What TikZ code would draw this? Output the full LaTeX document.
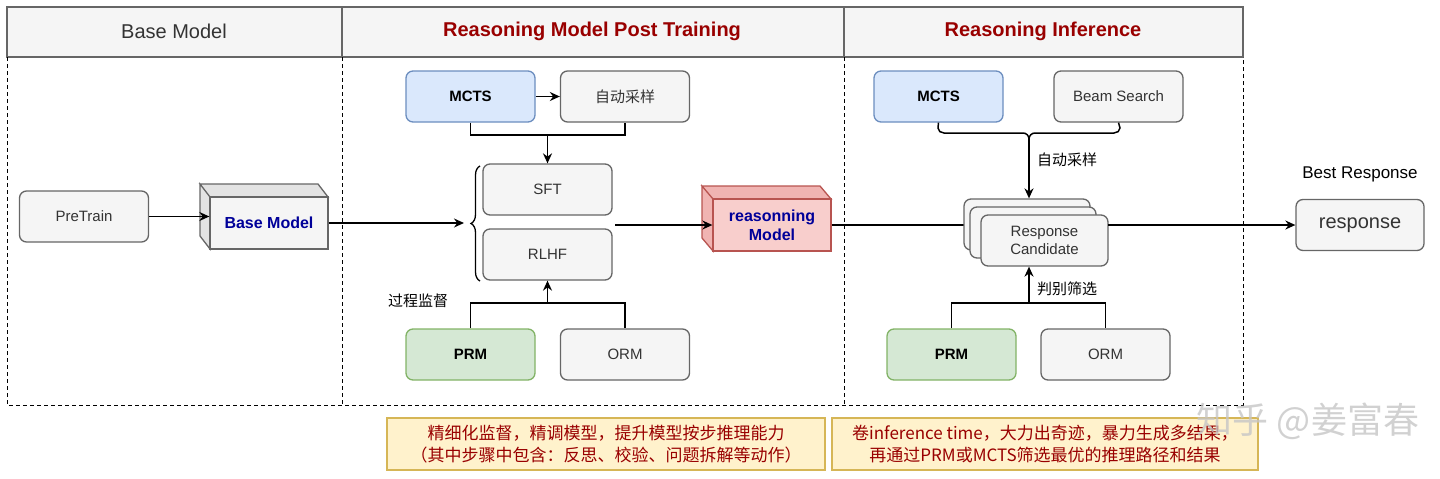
\documentclass[tikz,border=0pt]{standalone}
\usepackage{fontspec}
\setmainfont{Liberation Sans}
\newfontfamily\cjk{Noto Sans CJK SC}
\usetikzlibrary{arrows.meta,decorations.pathreplacing}
\definecolor{lgray}{HTML}{F5F5F5}
\definecolor{sgray}{HTML}{666666}
\definecolor{dred}{HTML}{990000}
\definecolor{dblue}{HTML}{000099}
\begin{document}
\begin{tikzpicture}[x=1pt,y=-1pt,
  box/.style={draw=sgray,fill=lgray,rounded corners=7pt,line width=1.3pt,minimum width=129pt,minimum height=51pt,font=\fontsize{15}{18}\selectfont,text=black!80,inner sep=0pt},
  blue/.style={box,fill={rgb,255:red,218;green,232;blue,252},draw={rgb,255:red,108;green,142;blue,191},font=\fontsize{15}{18}\selectfont\bfseries,text=black},
  green/.style={box,fill={rgb,255:red,213;green,232;blue,212},draw={rgb,255:red,130;green,179;blue,102},font=\fontsize{15}{18}\selectfont\bfseries,text=black},
  note/.style={draw={rgb,255:red,214;green,182;blue,86},fill={rgb,255:red,255;green,242;blue,204},line width=1.3pt,text=dred,align=center,font=\cjk\fontsize{17}{22}\selectfont,inner sep=0pt},
  line/.style={line width=1.5pt,black},
  arr/.style={line,-{Stealth[length=10pt,width=9pt]}},
  hdr/.style={font=\fontsize{20}{24}\selectfont}]
\useasboundingbox (0,0) rectangle (1440,479);
% header
\fill[lgray] (7,7) rectangle (1243,57);
\draw[sgray,line width=1.3pt] (7,7) rectangle (1243,57) (342,7)--(342,57) (844,7)--(844,57);
\draw[black,line width=1pt,dash pattern=on 4pt off 3pt] (7,57)--(7,405)--(1243,405)--(1243,57) (342,57)--(342,405) (844,57)--(844,405);
\node[hdr,text=black!80] (h1) at (174,31) {Base Model};
\node[hdr,text=dred,font=\fontsize{20}{24}\selectfont\bfseries] (h2) at (592,31) {Reasoning Model Post Training};
\node[hdr,text=dred,font=\fontsize{20}{24}\selectfont\bfseries] (h3) at (1043,31) {Reasoning Inference};
% base column
\node[box] (pre) at (84,216.5) {PreTrain};
\filldraw[draw=sgray,fill=lgray!85!gray,line width=1.3pt] (200,184)--(318,184)--(328,197)--(210,197)--cycle (200,184)--(210,197)--(210,249)--(200,236)--cycle;
\node[draw=sgray,fill=lgray,line width=1.3pt,minimum width=118pt,minimum height=52pt,inner sep=0pt,text=dblue,font=\fontsize{16}{19}\selectfont\bfseries] (base) at (269,223) {Base Model};
\draw[arr] (pre.east) -- (pre.east -| base.west);
% post training
\node[blue] (m1) at (470.5,96.5) {MCTS};
\node[box,font=\cjk\fontsize{15}{18}\selectfont] (s1) at (625,96.5) {自动采样};
\node[box] (sft) at (547.5,189.5) {SFT};
\node[box] (rlhf) at (547.5,254.5) {RLHF};
\node[green] (p1) at (470.5,354.5) {PRM};
\node[box] (o1) at (625,354.5) {ORM};
\draw[line width=1.3pt,decorate,decoration={brace,amplitude=9pt,mirror}] (480,166) -- (480,281);
\coordinate (bt) at (464,223);
\draw[arr] (base.east) -- (bt);
\draw[arr] (m1.east) -- (s1.west);
\draw[line] (m1.south) -- (470.5,135) -- (625,135) -- (s1.south);
\coordinate (j1) at (547.5,135);
\draw[arr] (j1) -- (sft.north);
\draw[line] (p1.north) -- (470.5,303) -- (625,303) -- (o1.north);
\coordinate (j2) at (547.5,303);
\draw[arr] (j2) -- (rlhf.south);
\node[font=\cjk\fontsize{15}{18}\selectfont] (l1) at (418,301) {过程监督};
% reasoning model cube
\filldraw[draw={rgb,255:red,184;green,84;blue,80},fill={rgb,255:red,240;green,180;blue,178},line width=1.3pt] (702,186)--(820,186)--(831,199)--(713,199)--cycle (702,186)--(713,199)--(713,251)--(702,238)--cycle;
\node[draw={rgb,255:red,184;green,84;blue,80},fill={rgb,255:red,248;green,206;blue,204},line width=1.3pt,minimum width=118pt,minimum height=52pt,inner sep=0pt,text=dblue,align=center,font=\fontsize{16}{19}\selectfont\bfseries] (rm) at (772,225) {reasonning\\Model};
\coordinate (sr) at (615,225);
\draw[arr] (sr) -- (sr -| rm.west);
% inference
\node[blue] (m2) at (938.5,96.5) {MCTS};
\node[box] (bs) at (1118.5,96.5) {Beam Search};
\node[green] (p2) at (951.5,354.5) {PRM};
\node[box] (o2) at (1105.5,354.5) {ORM};
\node[box,font=\fontsize{20}{24}\selectfont,minimum width=128pt] (resp) at (1360,225) {response};
\node[font=\fontsize{17}{20}\selectfont] (br) at (1360,174) {Best Response};
\draw[line] (rm.east) -- (964,225);
\node[box,minimum width=126pt] (c1) at (1027,224.5) {};
\node[box,minimum width=126pt] (c2) at (1033,232.5) {};
\node[box,minimum width=127pt,align=center,font=\fontsize{15}{18}\selectfont] (c3) at (1044.5,240.5) {Response\\Candidate};
\coordinate (ce) at (1108,225);
\draw[arr] (ce) -- (resp.west);
\draw[line] (m2.south) -- (938,128) to[out=-90,in=180] (944,133) -- (1023,133) to[out=0,in=90] (1029,139) to[out=90,in=180] (1035,133) -- (1114,133) to[out=0,in=-90] (1120,128) -- (bs.south);
\coordinate (j3) at (1029,139);
\draw[arr] (j3) -- (j3 |- c1.north);
\node[font=\cjk\fontsize{15}{18}\selectfont] (l2) at (1067,160) {自动采样};
\draw[line] (p2.north) -- (951.5,303) -- (1105.5,303) -- (o2.north);
\coordinate (j4) at (1029,303);
\draw[arr] (j4) -- (j4 |- c3.south);
\node[font=\cjk\fontsize{15}{18}\selectfont] (l3) at (1067,289) {判别筛选};
% notes
\node[note,minimum width=438pt,minimum height=52pt] (n1) at (606,444) {精细化监督，精调模型，提升模型按步推理能力\\（其中步骤中包含：反思、校验、问题拆解等动作）};
\node[note,minimum width=426pt,minimum height=52pt] (n2) at (1045,444) {卷inference time，大力出奇迹，暴力生成多结果，\\再通过PRM或MCTS筛选最优的推理路径和结果};
\node[text=gray!45,opacity=0.8,font=\cjk\fontsize{36}{40}\selectfont] (wm) at (1308,421) {知乎 @姜富春};
\end{tikzpicture}
\end{document}
